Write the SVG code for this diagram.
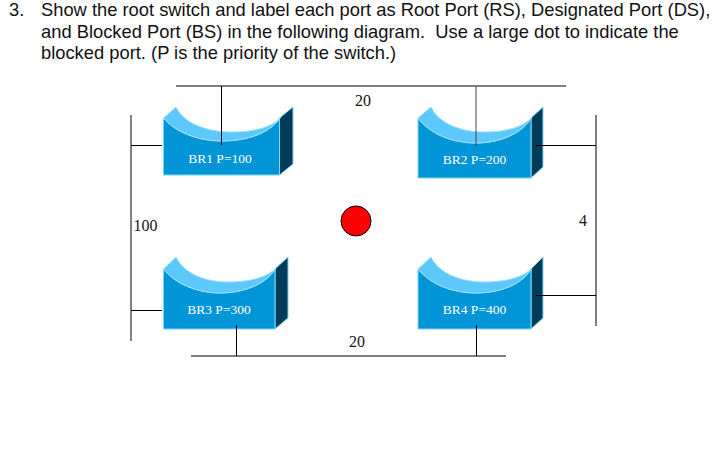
<svg xmlns="http://www.w3.org/2000/svg" width="727" height="466" viewBox="0 0 727 466">
<style>
.q{font:18.33px "Liberation Sans",Arial,sans-serif;fill:#111;white-space:pre}
.n{font:16px "Liberation Serif","Times New Roman",serif;fill:#111;text-anchor:middle}
.l{font:13.5px "Liberation Serif","Times New Roman",serif;fill:#fff;text-anchor:middle}
.bus{stroke:#808080;stroke-width:2;fill:none}
.wire{stroke:#000;stroke-width:1;fill:none}
.front{fill:#0095d6;stroke:#7fd4f7;stroke-width:1}
.top{fill:#5cc8fc;stroke:#9fe0fb;stroke-width:1}
.side{fill:#003c57;stroke:#7fd4f7;stroke-width:1}
</style>
<rect width="727" height="466" fill="#fff"/>
<text class="q" x="9" y="16">3.</text>
<text class="q" x="41" y="16">Show the root switch and label each port as Root Port (RS), Designated Port (DS),</text>
<text class="q" x="41" y="38">and Blocked Port (BS) in the following diagram.  Use a large dot to indicate the</text>
<text class="q" x="41" y="59">blocked port. (P is the priority of the switch.)</text>
<g id="BR1">
<path class="side" d="M279.500 118L293 107V164L279.500 175Z"/>
<path class="front" d="M163.500 118C175 132 198 141 222 141C245 141 270 134 279.500 118V175H163.500Z"/>
<path class="top" d="M163.500 118L176 107C184 124 208 132 232 132C252 132 272 128 281 117C270 134 245 141 222 141C198 141 175 132 163.500 118Z"/>
<text class="l" x="220" y="163">BR1 P=100</text>
</g>
<g id="BR2">
<path class="side" d="M531 118L543 107V167L531 178Z"/>
<path class="front" d="M418 118C430 134 452 143 476 143C499 143 522 134 531 118V178H418Z"/>
<path class="top" d="M418 118L431 107C439 124 462 132 484 132C504 132 523 128 532 117C522 134 499 143 476 143C452 143 430 134 418 118Z"/>
<text class="l" x="474.500" y="164">BR2 P=200</text>
</g>
<g id="BR3">
<path class="side" d="M275 269L288 257V318L275 329Z"/>
<path class="front" d="M163.500 269C175 284 198 293 220 293C242 293 266 285 275 269V329H163.500Z"/>
<path class="top" d="M163.500 269L176 257C184 274 206 282 228 282C248 282 267 278 276 268C266 285 242 293 220 293C198 293 175 284 163.500 269Z"/>
<text class="l" x="219" y="314">BR3 P=300</text>
</g>
<g id="BR4">
<path class="side" d="M531 269L543 257V318L531 329Z"/>
<path class="front" d="M418 269C430 284 452 293 476 293C499 293 522 285 531 269V329H418Z"/>
<path class="top" d="M418 269L431 257C439 274 462 282 484 282C504 282 523 278 532 268C522 285 499 293 476 293C452 293 430 284 418 269Z"/>
<text class="l" x="474.500" y="314">BR4 P=400</text>
</g>
<g id="connectors">
<path class="bus" d="M176 86H566M131 115V341M596 115V326M191 356H506"/>
<path class="wire" d="M221.500 86V145M131 145.500H162M131 310.500H162M236.500 325V356"/>
<path class="wire" d="M476 86V146" style="stroke:#444"/>
<path class="wire" d="M536 145.500H596M536 295.500H596M476.500 325V356"/>
</g>
<g id="blocked-dot"><circle cx="356" cy="221" r="15" fill="#fe0000" stroke="#000" stroke-width="1"/></g>
<text class="n" x="363" y="106">20</text>
<text class="n" x="145.500" y="231">100</text>
<text class="n" x="583" y="226">4</text>
<text class="n" x="357" y="347">20</text>
</svg>
